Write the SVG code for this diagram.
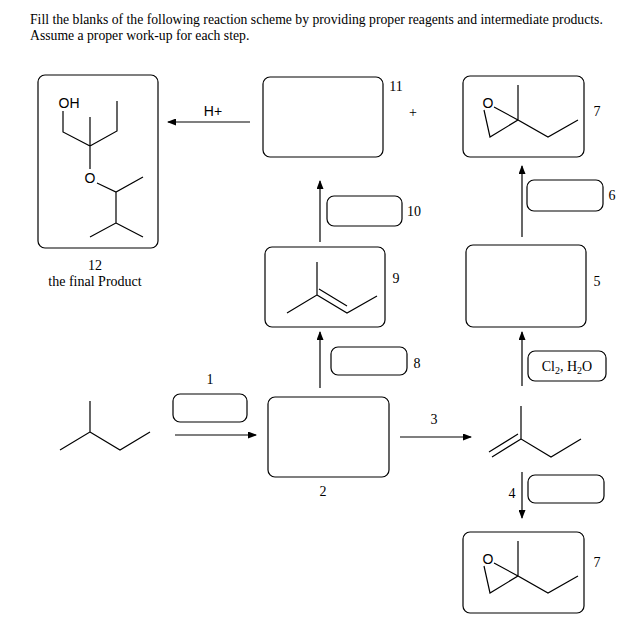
<svg xmlns="http://www.w3.org/2000/svg" width="624" height="623" viewBox="0 0 624 623">
<style>
.t{font-family:"Liberation Serif",serif;font-size:14px;fill:#000}
.h{font-family:"Liberation Serif",serif;font-size:13.7px;fill:#000}
.s{font-family:"Liberation Sans",sans-serif;font-size:14px;fill:#000}
.b{fill:none;stroke:#000;stroke-width:1.2}
.m{fill:none;stroke:#000;stroke-width:1.2}
.c{stroke:#000;stroke-width:1.2;fill:none}
</style>
<defs><marker id="a" markerWidth="9" markerHeight="7" refX="8" refY="3.5" orient="auto" markerUnits="userSpaceOnUse"><path d="M0,0 L9,3.5 L0,7 Z" fill="#000"/></marker></defs>
<rect width="624" height="623" fill="#fff"/>
<text class="h" x="30" y="24">Fill the blanks of the following reaction scheme by providing proper reagents and intermediate products.</text>
<text class="h" x="30" y="40">Assume a proper work-up for each step.</text>
<g id="n12">
<rect class="b" x="38" y="75" width="120" height="173" rx="7"/>
<text class="s" x="69" y="108" text-anchor="middle">OH</text>
<path class="m" d="M63,111 L63,132 L90,146 L90,117 M90,146 L117,131 L117,101 M90,146 L90,169 M97,183 L116,192 L143,177 M116,192 L116,223 L90,237 M116,223 L143,237"/>
<text class="s" x="90" y="183" text-anchor="middle">O</text>
<text class="t" x="95" y="270" text-anchor="middle">12</text>
<text class="t" x="95" y="286" text-anchor="middle">the final Product</text>
</g>
<g id="n11"><rect class="b" x="263" y="77" width="120" height="80" rx="7"/><text class="t" x="396" y="91" text-anchor="middle">11</text></g>
<text class="t" x="413" y="117" text-anchor="middle">+</text>
<g id="n7a">
<rect class="b" x="463" y="76" width="121" height="81" rx="7"/>
<text class="s" x="488" y="108" text-anchor="middle">O</text>
<path class="m" d="M494,107 L518,120 L518,85 M484,110 L490,137 L518,120 L548,137 L578,120"/>
<text class="t" x="597" y="116" text-anchor="middle">7</text>
</g>
<g id="n10"><rect class="b" x="327" y="196" width="75" height="30" rx="7"/><text class="t" x="414" y="216" text-anchor="middle">10</text></g>
<g id="n6"><rect class="b" x="527" y="180" width="76" height="31" rx="7"/><text class="t" x="612" y="200" text-anchor="middle">6</text></g>
<g id="n9">
<rect class="b" x="265" y="247" width="120" height="80" rx="7"/>
<path class="m" d="M317,262 L317,295 L287,313 M317,295 L347,313 L377,296 M319,289 L347,306"/>
<text class="t" x="396" y="283" text-anchor="middle">9</text>
</g>
<g id="n5"><rect class="b" x="466" y="245" width="120" height="82" rx="7"/><text class="t" x="597" y="286" text-anchor="middle">5</text></g>
<g id="n8"><rect class="b" x="331" y="347" width="76" height="28" rx="7"/><text class="t" x="417" y="368" text-anchor="middle">8</text></g>
<g id="ncl"><rect class="b" x="528" y="351" width="78" height="30" rx="7"/><text class="t" x="567" y="371" text-anchor="middle">Cl<tspan font-size="10" dy="3">2</tspan><tspan dy="-3">, H</tspan><tspan font-size="10" dy="3">2</tspan><tspan dy="-3">O</tspan></text></g>
<g id="n1"><rect class="b" x="173" y="394" width="74" height="28" rx="7"/><text class="t" x="210" y="384" text-anchor="middle">1</text></g>
<g id="start"><path class="m" d="M60,450 L90,432 L90,401 M90,432 L120,450 L150,432"/></g>
<g id="n2"><rect class="b" x="268" y="397" width="121" height="80" rx="7"/><text class="t" x="323" y="496" text-anchor="middle">2</text></g>
<text class="t" x="434" y="424" text-anchor="middle">3</text>
<g id="alkene"><path class="m" d="M521,406 L521,439 L551,457 L581,439 M521,439 L492,457 M518,434 L489,452"/></g>
<g id="n4"><rect class="b" x="528" y="475" width="76" height="28" rx="7"/><text class="t" x="512" y="498" text-anchor="middle">4</text></g>
<g id="n7b">
<rect class="b" x="463" y="532" width="121" height="81" rx="7"/>
<text class="s" x="488" y="564" text-anchor="middle">O</text>
<path class="m" d="M494,563 L518,576 L518,541 M484,566 L490,593 L518,576 L548,593 L578,576"/>
<text class="t" x="597" y="567" text-anchor="middle">7</text>
</g>
<g id="connectors">
<path class="c" d="M250,122 L168,122" marker-end="url(#a)"/>
<text class="s" x="213" y="116" text-anchor="middle">H+</text>
<path class="c" d="M320,242 L320,181" marker-end="url(#a)"/>
<path class="c" d="M522,237 L522,166" marker-end="url(#a)"/>
<path class="c" d="M320,388 L320,332" marker-end="url(#a)"/>
<path class="c" d="M522,386 L522,332" marker-end="url(#a)"/>
<path class="c" d="M175,435 L256,435" marker-end="url(#a)"/>
<path class="c" d="M400,437 L471,437" marker-end="url(#a)"/>
<path class="c" d="M522,472 L522,518" marker-end="url(#a)"/>
</g>
</svg>
